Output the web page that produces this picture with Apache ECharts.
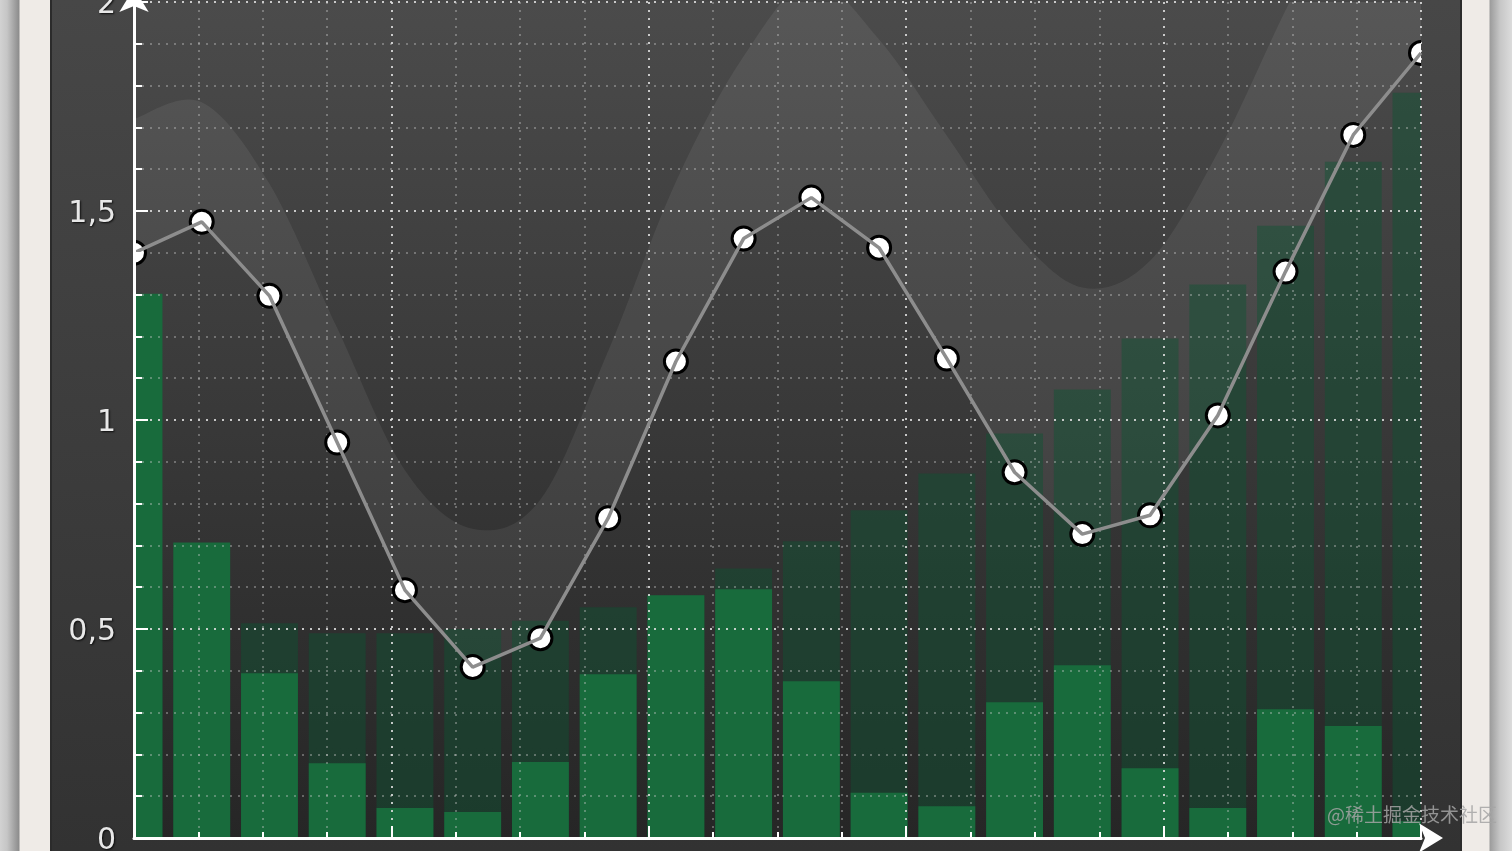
<!DOCTYPE html>
<html>
<head>
<meta charset="utf-8">
<script src="https://cdn.jsdelivr.net/npm/echarts/dist/echarts.min.js"></script>
<style>
html,body{margin:0;padding:0;width:1512px;height:851px;overflow:hidden;}
body{background:linear-gradient(to right,#d2d2d2 0px,#c6c6c6 7px,#8c8c8c 19px,#efebe7 20px,#efebe7 1489px,#9c9c9c 1490px,#c6c6c6 1500px,#dcdcdc 1512px);}
#panel{position:absolute;left:50px;top:0;width:1408px;height:851px;background:linear-gradient(to bottom,#474747,#323232);border-left:2px solid #2b2b2b;border-right:2px solid #2b2b2b;}
#chart{position:absolute;left:0;top:0;width:1512px;height:851px;}
</style>
</head>
<body>
<div id="panel"></div>
<div id="chart"></div>
<script>
// ---- data ----
const positions   = [0,1,2,3,4,5,6,7,8,9,10,11,12,13,14,15,16,17,18,19];
const lineValues  = [1.400,1.474,1.297,0.946,0.593,0.409,0.478,0.765,1.140,1.434,1.532,1.412,1.147,0.875,0.727,0.772,1.011,1.355,1.682,1.878];
const waveValues  = [1.72,1.76,1.565,1.22,0.88,0.74,0.81,1.165,1.57,1.87,2.05,1.91,1.68,1.45,1.317,1.381,1.64,1.98,2.30,2.60];
const brightBars  = [1.302,0.707,0.394,0.179,0.072,0.062,0.182,0.392,0.581,0.595,0.375,0.108,0.076,0.325,0.413,0.167,0.072,0.308,0.268,0.040];
const shadowBars  = [0.60,0.55,0.514,0.49,0.49,0.50,0.52,0.552,0.58,0.645,0.71,0.784,0.872,0.968,1.073,1.195,1.324,1.465,1.618,1.783];
const yTickValues = [0,0.5,1,1.5,2];
const yTickLabels = ['0','0,5','1','1,5','2'];
const watermark   = '@稀土掘金技术社区';

const chart = echarts.init(document.getElementById('chart'), null, {renderer:'canvas'});

const pairs = (vals) => positions.map((x,i) => [x, vals[i]]);

const BAR_RATIO = 0.84;   // bar width as a share of the point spacing

function barRenderer(color){
  return function(params, api){
    const x = api.value(0), v = api.value(1);
    const p0 = api.coord([x, 0]);
    const p1 = api.coord([x, v]);
    const w = api.size([1, 0])[0] * BAR_RATIO;
    return {type:'rect',
      shape:{x:p0[0]-w/2, y:p1[1], width:w, height:p0[1]-p1[1]},
      style:{fill:color}};
  };
}

function markerRenderer(params, api){
  const p = api.coord([api.value(0), api.value(1)]);
  return {type:'circle', shape:{cx:p[0], cy:p[1], r:11.5},
    style:{fill:'#ffffff', stroke:'#000000', lineWidth:3}};
}

// band between the smooth wave (top) and the polyline (bottom)
function bandRenderer(params, api){
  const top = positions.map((x,i) => api.coord([x, waveValues[i]]));
  const low = positions.map((x,i) => api.coord([x, lineValues[i]]));
  const n = top.length;
  let d = 'M' + top[0][0] + ' ' + top[0][1];
  for (let i = 0; i < n-1; i++){
    const a = top[i-1] || top[i], b = top[i], c = top[i+1], e = top[i+2] || top[i+1];
    const c1x = b[0] + (c[0]-a[0])/6, c1y = b[1] + (c[1]-a[1])/6;
    const c2x = c[0] - (e[0]-b[0])/6, c2y = c[1] - (e[1]-b[1])/6;
    d += ' C' + c1x + ' ' + c1y + ' ' + c2x + ' ' + c2y + ' ' + c[0] + ' ' + c[1];
  }
  for (let i = n-1; i >= 0; i--) d += ' L' + low[i][0] + ' ' + low[i][1];
  d += ' Z';
  return {type:'path', shape:{pathData:d}, style:{fill:'rgba(255,255,255,0.068)'}};
}

const dotMajor = {color:'rgba(225,225,225,0.85)', width:2, type:[2,6]};
const dotMinor = {color:'rgba(205,205,205,0.38)', width:2, type:[2,6]};
const white = '#ffffff';

const option = {
  animation:false,
  backgroundColor:'transparent',
  grid:{
    left:134, right:91, top:2, bottom:13,
    outerBoundsMode:'none', containLabel:false,
    show:true, borderWidth:0,
    backgroundColor:{type:'linear',x:0,y:0,x2:0,y2:1,
      colorStops:[{offset:0,color:'#4b4b4b'},{offset:1,color:'#262626'}]}
  },
  xAxis:[
    {
      type:'value', min:0, max:19, interval:3.8, position:'bottom', z:3,
      axisLine:{show:false}, axisTick:{show:false}, axisLabel:{show:false},
      splitLine:{show:true, lineStyle:dotMajor},
      minorTick:{show:false, splitNumber:4},
      minorSplitLine:{show:true, lineStyle:dotMinor}
    },
    {
      type:'value', min:0, max:19, interval:3.8, position:'bottom', z:6,
      axisLine:{show:true, onZero:false, lineStyle:{color:white,width:3},
        symbol:['none','arrow'], symbolSize:[22,24], symbolOffset:[0,22]},
      axisTick:{show:true, inside:true, length:12, lineStyle:{color:white,width:2}},
      minorTick:{show:true, splitNumber:4, length:6, lineStyle:{color:white,width:2}},
      axisLabel:{show:false}, splitLine:{show:false}
    }
  ],
  yAxis:[
    {
      type:'value', min:0, max:2, interval:0.5, position:'left', z:3,
      axisLine:{show:false}, axisTick:{show:false}, axisLabel:{show:false},
      splitLine:{show:true, lineStyle:dotMajor},
      minorTick:{show:false, splitNumber:5},
      minorSplitLine:{show:true, lineStyle:dotMinor}
    },
    {
      type:'value', min:0, max:2, interval:0.5, position:'left', z:6,
      axisLine:{show:true, onZero:false, lineStyle:{color:white,width:3},
        symbol:['none','arrow'], symbolSize:[22,24], symbolOffset:[0,14]},
      axisTick:{show:true, inside:true, length:14, lineStyle:{color:white,width:2}},
      minorTick:{show:true, splitNumber:5, length:8, lineStyle:{color:white,width:2}},
      splitLine:{show:false},
      axisLabel:{show:true, margin:18, color:'#e8e8e8', fontSize:30,
        fontFamily:'DejaVu Sans',
        showMinLabel:true, showMaxLabel:true,
        rich:{t:{color:'#e8e8e8', fontSize:30, fontFamily:'DejaVu Sans',
          padding:[7,0,0,0],
          textShadowColor:'rgba(0,0,0,0.8)', textShadowBlur:2,
          textShadowOffsetX:1, textShadowOffsetY:1}},
        formatter:(v)=>{
          const k = yTickValues.findIndex(t => Math.abs(t - v) < 1e-6);
          return k >= 0 ? '{t|' + yTickLabels[k] + '}' : '';
        }}
    }
  ],
  series:[
    {
      name:'band', type:'custom', xAxisIndex:0, yAxisIndex:0, z:1, clip:true, silent:true,
      data:[[0, 0]], renderItem:bandRenderer
    },
    {
      name:'shadow', type:'custom', xAxisIndex:0, yAxisIndex:0, z:2, clip:true,
      data:pairs(shadowBars), renderItem:barRenderer('rgba(14,85,50,0.45)')
    },
    {
      name:'bars', type:'custom', xAxisIndex:0, yAxisIndex:0, z:2, clip:true,
      data:pairs(brightBars), renderItem:barRenderer('#186b3c')
    },
    {
      name:'curve', type:'line', xAxisIndex:0, yAxisIndex:0,
      data:pairs(lineValues), z:5, clip:true, showSymbol:false,
      lineStyle:{color:'#8d8d8d', width:3.5}
    },
    {
      name:'points', type:'custom', xAxisIndex:0, yAxisIndex:0, z:5, clip:true,
      data:pairs(lineValues), renderItem:markerRenderer
    }
  ],
  graphic:[
    {type:'text', left:1327, top:805, z:100,
      style:{text:watermark, font:'19px "Noto Sans CJK SC"', fill:'rgba(165,165,165,0.85)'}}
  ]
};
chart.setOption(option);
</script>
</body>
</html>
